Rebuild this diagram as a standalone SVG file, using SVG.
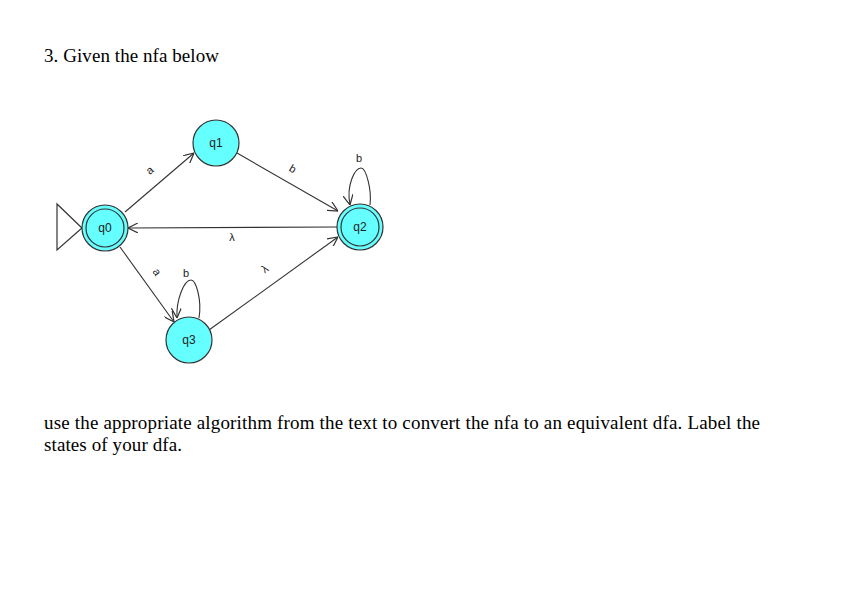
<svg xmlns="http://www.w3.org/2000/svg" width="859" height="592" viewBox="0 0 859 592">
<defs>
<marker id="ar" viewBox="0 0 10 10" refX="10" refY="5" markerWidth="10" markerHeight="10" markerUnits="userSpaceOnUse" orient="auto"><path d="M0,0 L10,5 L0,10" fill="none" stroke="#333" stroke-width="1.2"/></marker>
<style>
.t{font-family:"Liberation Serif",serif;font-size:19px;fill:#000}
.n{fill:#6ff;stroke:#333;stroke-width:1.2}
.nl{font-family:"Liberation Sans",sans-serif;font-size:12px;fill:#222;text-anchor:middle}
.e{fill:none;stroke:#333;stroke-width:1.1;marker-end:url(#ar)}
.el{font-family:"Liberation Sans",sans-serif;font-size:11px;fill:#222;text-anchor:middle}
</style>
</defs>
<rect width="859" height="592" fill="#fff"/>
<text class="t" x="44" y="62" textLength="175" lengthAdjust="spacing">3. Given the nfa below</text>
<text class="t" x="44" y="429" textLength="716" lengthAdjust="spacing">use the appropriate algorithm from the text to convert the nfa to an equivalent dfa.  Label the</text>
<text class="t" x="44" y="451" textLength="138" lengthAdjust="spacing">states of your dfa.</text>
<g id="connectors">
<path class="e" d="M125,212 L194,153"/>
<path class="e" d="M237,153 L338,211"/>
<path class="e" d="M337,227 L128,228"/>
<path class="e" d="M120,247 L174,322"/>
<path class="e" d="M209,330 L338,237"/>
<path class="e" d="M370,205 C372,190 366,168 361,168 C355,168 346,185 350,205"/>
<path class="e" d="M199,318 C202,300 196,280 191,280 C184,280 176,300 177,318"/>
<text class="el" transform="translate(152,173) rotate(-40)">a</text>
<text class="el" transform="translate(291,172) rotate(30)">b</text>
<text class="el" x="359" y="162">b</text>
<text class="el" x="232" y="241">λ</text>
<text class="el" transform="translate(154,274) rotate(56)">a</text>
<text class="el" x="186" y="277">b</text>
<text class="el" transform="translate(267,272) rotate(-36)">λ</text>
</g>
<g id="start"><polygon points="57,204 57,250 82,228" fill="#fff" stroke="#333" stroke-width="1.2"/></g>
<g id="q0"><circle class="n" cx="105" cy="228" r="23"/><circle cx="105" cy="228" r="19" fill="none" stroke="#333" stroke-width="1.2"/><text class="nl" x="105" y="232">q0</text></g>
<g id="q1"><circle class="n" cx="216" cy="143" r="23"/><text class="nl" x="216" y="147">q1</text></g>
<g id="q2"><circle class="n" cx="360" cy="227" r="23"/><circle cx="360" cy="227" r="19" fill="none" stroke="#333" stroke-width="1.2"/><text class="nl" x="360" y="231">q2</text></g>
<g id="q3"><circle class="n" cx="189" cy="340" r="23"/><text class="nl" x="189" y="344">q3</text></g>
</svg>
